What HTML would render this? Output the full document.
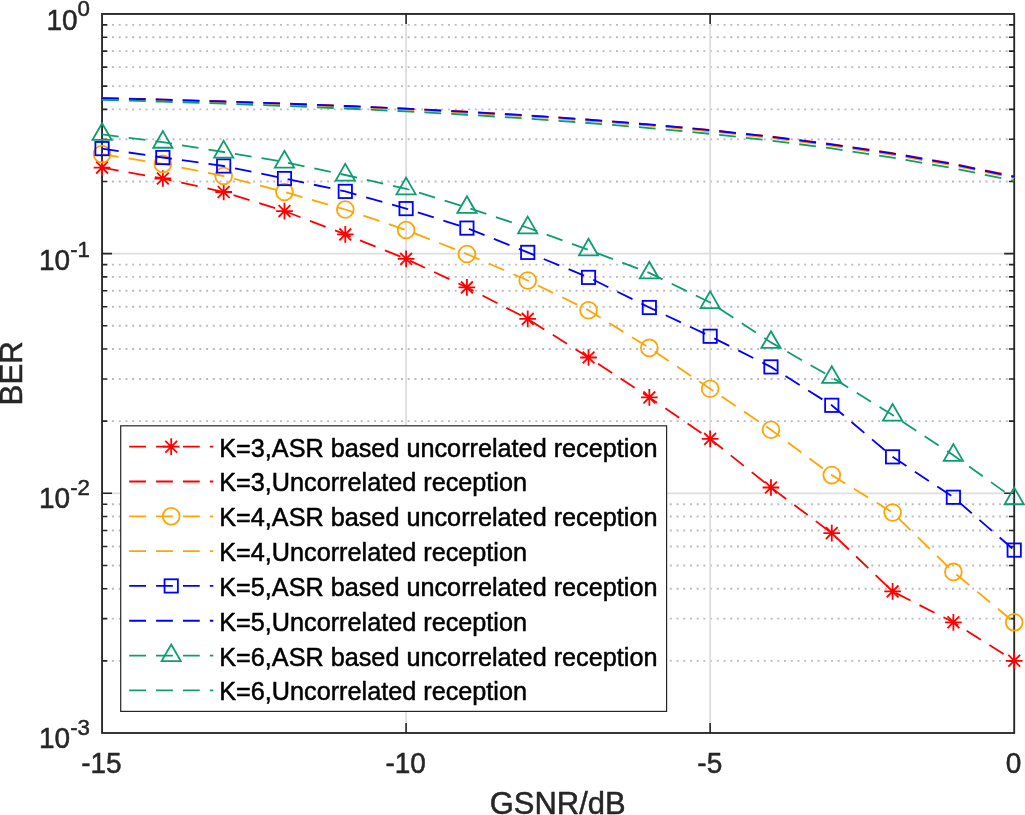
<!DOCTYPE html>
<html lang="en"><head><meta charset="utf-8"><title>BER vs GSNR</title>
<style>html,body{margin:0;padding:0;background:#fff}svg{display:block}text{font-family:"Liberation Sans",Arial,Helvetica,sans-serif;fill:#262626;stroke:#262626;stroke-width:0.5px;stroke-linejoin:round}</style></head><body>
<svg width="1025" height="815" viewBox="0 0 1025 815">
<rect width="1025" height="815" fill="#fff"/>
<g stroke="#bcbcbc" stroke-width="1.9" stroke-dasharray="2 4.72" fill="none"><line x1="112.00" y1="181.48" x2="1014.20" y2="181.48"/><line x1="112.00" y1="139.28" x2="1014.20" y2="139.28"/><line x1="112.00" y1="109.33" x2="1014.20" y2="109.33"/><line x1="112.00" y1="86.10" x2="1014.20" y2="86.10"/><line x1="112.00" y1="67.12" x2="1014.20" y2="67.12"/><line x1="112.00" y1="51.08" x2="1014.20" y2="51.08"/><line x1="112.00" y1="37.18" x2="1014.20" y2="37.18"/><line x1="112.00" y1="24.92" x2="1014.20" y2="24.92"/><line x1="112.00" y1="421.16" x2="1014.20" y2="421.16"/><line x1="112.00" y1="378.96" x2="1014.20" y2="378.96"/><line x1="112.00" y1="349.01" x2="1014.20" y2="349.01"/><line x1="112.00" y1="325.79" x2="1014.20" y2="325.79"/><line x1="112.00" y1="306.81" x2="1014.20" y2="306.81"/><line x1="112.00" y1="290.76" x2="1014.20" y2="290.76"/><line x1="112.00" y1="276.86" x2="1014.20" y2="276.86"/><line x1="112.00" y1="264.60" x2="1014.20" y2="264.60"/><line x1="112.00" y1="660.85" x2="1014.20" y2="660.85"/><line x1="112.00" y1="618.64" x2="1014.20" y2="618.64"/><line x1="112.00" y1="588.70" x2="1014.20" y2="588.70"/><line x1="112.00" y1="565.47" x2="1014.20" y2="565.47"/><line x1="112.00" y1="546.49" x2="1014.20" y2="546.49"/><line x1="112.00" y1="530.44" x2="1014.20" y2="530.44"/><line x1="112.00" y1="516.54" x2="1014.20" y2="516.54"/><line x1="112.00" y1="504.28" x2="1014.20" y2="504.28"/></g>
<g stroke="#dedede" stroke-width="1.8" fill="none"><line x1="406.10" y1="13.95" x2="406.10" y2="733.00"/><line x1="710.15" y1="13.95" x2="710.15" y2="733.00"/><line x1="102.05" y1="253.63" x2="1014.20" y2="253.63"/><line x1="102.05" y1="493.32" x2="1014.20" y2="493.32"/></g>
<g stroke="#262626" stroke-width="1.85" fill="none">
<rect x="102.05" y="13.95" width="912.15" height="719.05"/>
<path stroke-width="1.6" d="M406.10 733.00v-10M406.10 13.95v10M710.15 733.00v-10M710.15 13.95v10M102.05 253.63h10M1014.20 253.63h-10M102.05 493.32h10M1014.20 493.32h-10M102.05 181.48h5.3M1014.20 181.48h-5.3M102.05 139.28h5.3M1014.20 139.28h-5.3M102.05 109.33h5.3M1014.20 109.33h-5.3M102.05 86.10h5.3M1014.20 86.10h-5.3M102.05 67.12h5.3M1014.20 67.12h-5.3M102.05 51.08h5.3M1014.20 51.08h-5.3M102.05 37.18h5.3M1014.20 37.18h-5.3M102.05 24.92h5.3M1014.20 24.92h-5.3M102.05 421.16h5.3M1014.20 421.16h-5.3M102.05 378.96h5.3M1014.20 378.96h-5.3M102.05 349.01h5.3M1014.20 349.01h-5.3M102.05 325.79h5.3M1014.20 325.79h-5.3M102.05 306.81h5.3M1014.20 306.81h-5.3M102.05 290.76h5.3M1014.20 290.76h-5.3M102.05 276.86h5.3M1014.20 276.86h-5.3M102.05 264.60h5.3M1014.20 264.60h-5.3M102.05 660.85h5.3M1014.20 660.85h-5.3M102.05 618.64h5.3M1014.20 618.64h-5.3M102.05 588.70h5.3M1014.20 588.70h-5.3M102.05 565.47h5.3M1014.20 565.47h-5.3M102.05 546.49h5.3M1014.20 546.49h-5.3M102.05 530.44h5.3M1014.20 530.44h-5.3M102.05 516.54h5.3M1014.20 516.54h-5.3M102.05 504.28h5.3M1014.20 504.28h-5.3"/>
</g>
<polyline points="102.05,167.60 162.86,178.50 223.67,192.00 284.48,211.10 345.29,234.40 406.10,258.90 466.91,287.40 527.72,318.90 588.53,357.50 649.34,397.40 710.15,438.90 770.96,487.50 831.77,533.10 892.58,591.40 953.39,622.30 1014.20,660.80" fill="none" stroke="#ff0000" stroke-width="1.80" stroke-dasharray="16.8 10.08"/>
<path d="M93.70 167.60H110.40M102.05 159.25V175.95M96.15 161.70L107.95 173.50M96.15 173.50L107.95 161.70" stroke="#ff0000" stroke-width="1.80" fill="none"/><path d="M154.51 178.50H171.21M162.86 170.15V186.85M156.96 172.60L168.76 184.40M156.96 184.40L168.76 172.60" stroke="#ff0000" stroke-width="1.80" fill="none"/><path d="M215.32 192.00H232.02M223.67 183.65V200.35M217.77 186.10L229.57 197.90M217.77 197.90L229.57 186.10" stroke="#ff0000" stroke-width="1.80" fill="none"/><path d="M276.13 211.10H292.83M284.48 202.75V219.45M278.58 205.20L290.38 217.00M278.58 217.00L290.38 205.20" stroke="#ff0000" stroke-width="1.80" fill="none"/><path d="M336.94 234.40H353.64M345.29 226.05V242.75M339.39 228.50L351.19 240.30M339.39 240.30L351.19 228.50" stroke="#ff0000" stroke-width="1.80" fill="none"/><path d="M397.75 258.90H414.45M406.10 250.55V267.25M400.20 253.00L412.00 264.80M400.20 264.80L412.00 253.00" stroke="#ff0000" stroke-width="1.80" fill="none"/><path d="M458.56 287.40H475.26M466.91 279.05V295.75M461.01 281.50L472.81 293.30M461.01 293.30L472.81 281.50" stroke="#ff0000" stroke-width="1.80" fill="none"/><path d="M519.37 318.90H536.07M527.72 310.55V327.25M521.82 313.00L533.62 324.80M521.82 324.80L533.62 313.00" stroke="#ff0000" stroke-width="1.80" fill="none"/><path d="M580.18 357.50H596.88M588.53 349.15V365.85M582.63 351.60L594.43 363.40M582.63 363.40L594.43 351.60" stroke="#ff0000" stroke-width="1.80" fill="none"/><path d="M640.99 397.40H657.69M649.34 389.05V405.75M643.44 391.50L655.24 403.30M643.44 403.30L655.24 391.50" stroke="#ff0000" stroke-width="1.80" fill="none"/><path d="M701.80 438.90H718.50M710.15 430.55V447.25M704.25 433.00L716.05 444.80M704.25 444.80L716.05 433.00" stroke="#ff0000" stroke-width="1.80" fill="none"/><path d="M762.61 487.50H779.31M770.96 479.15V495.85M765.06 481.60L776.86 493.40M765.06 493.40L776.86 481.60" stroke="#ff0000" stroke-width="1.80" fill="none"/><path d="M823.42 533.10H840.12M831.77 524.75V541.45M825.87 527.20L837.67 539.00M825.87 539.00L837.67 527.20" stroke="#ff0000" stroke-width="1.80" fill="none"/><path d="M884.23 591.40H900.93M892.58 583.05V599.75M886.68 585.50L898.48 597.30M886.68 597.30L898.48 585.50" stroke="#ff0000" stroke-width="1.80" fill="none"/><path d="M945.04 622.30H961.74M953.39 613.95V630.65M947.49 616.40L959.29 628.20M947.49 628.20L959.29 616.40" stroke="#ff0000" stroke-width="1.80" fill="none"/><path d="M1005.85 660.80H1022.55M1014.20 652.45V669.15M1008.30 654.90L1020.10 666.70M1008.30 666.70L1020.10 654.90" stroke="#ff0000" stroke-width="1.80" fill="none"/>
<polyline points="102.05,98.03 162.86,99.62 223.67,101.44 284.48,103.51 345.29,105.89 406.10,108.62 466.91,111.75 527.72,115.36 588.53,119.54 649.34,124.37 710.15,129.99 770.96,136.54 831.77,144.20 892.58,153.20 953.39,163.80 1014.20,176.34" fill="none" stroke="#ff0000" stroke-width="1.80" stroke-dasharray="16.8 10.08"/>
<polyline points="102.05,154.10 162.86,163.90 223.67,176.00 284.48,192.00 345.29,209.50 406.10,230.00 466.91,254.00 527.72,280.50 588.53,310.25 649.34,347.90 710.15,388.75 770.96,429.75 831.77,475.10 892.58,512.50 953.39,571.90 1014.20,622.30" fill="none" stroke="#ffa500" stroke-width="1.80" stroke-dasharray="16.8 10.08"/>
<circle cx="102.05" cy="154.10" r="8.4" stroke="#ffa500" stroke-width="1.80" fill="none"/><circle cx="162.86" cy="163.90" r="8.4" stroke="#ffa500" stroke-width="1.80" fill="none"/><circle cx="223.67" cy="176.00" r="8.4" stroke="#ffa500" stroke-width="1.80" fill="none"/><circle cx="284.48" cy="192.00" r="8.4" stroke="#ffa500" stroke-width="1.80" fill="none"/><circle cx="345.29" cy="209.50" r="8.4" stroke="#ffa500" stroke-width="1.80" fill="none"/><circle cx="406.10" cy="230.00" r="8.4" stroke="#ffa500" stroke-width="1.80" fill="none"/><circle cx="466.91" cy="254.00" r="8.4" stroke="#ffa500" stroke-width="1.80" fill="none"/><circle cx="527.72" cy="280.50" r="8.4" stroke="#ffa500" stroke-width="1.80" fill="none"/><circle cx="588.53" cy="310.25" r="8.4" stroke="#ffa500" stroke-width="1.80" fill="none"/><circle cx="649.34" cy="347.90" r="8.4" stroke="#ffa500" stroke-width="1.80" fill="none"/><circle cx="710.15" cy="388.75" r="8.4" stroke="#ffa500" stroke-width="1.80" fill="none"/><circle cx="770.96" cy="429.75" r="8.4" stroke="#ffa500" stroke-width="1.80" fill="none"/><circle cx="831.77" cy="475.10" r="8.4" stroke="#ffa500" stroke-width="1.80" fill="none"/><circle cx="892.58" cy="512.50" r="8.4" stroke="#ffa500" stroke-width="1.80" fill="none"/><circle cx="953.39" cy="571.90" r="8.4" stroke="#ffa500" stroke-width="1.80" fill="none"/><circle cx="1014.20" cy="622.30" r="8.4" stroke="#ffa500" stroke-width="1.80" fill="none"/>
<polyline points="102.05,98.66 162.86,100.31 223.67,102.19 284.48,104.32 345.29,106.77 406.10,109.57 466.91,112.78 527.72,116.47 588.53,120.73 649.34,125.65 710.15,131.36 770.96,137.99 831.77,145.74 892.58,154.81 953.39,165.48 1014.20,178.06" fill="none" stroke="#ffa500" stroke-width="1.80" stroke-dasharray="16.8 10.08"/>
<polyline points="102.05,148.60 162.86,157.50 223.67,166.00 284.48,178.50 345.29,191.40 406.10,208.60 466.91,228.10 527.72,252.40 588.53,277.40 649.34,307.50 710.15,336.25 770.96,366.90 831.77,405.30 892.58,456.85 953.39,497.25 1014.20,550.10" fill="none" stroke="#0000ff" stroke-width="1.80" stroke-dasharray="16.8 10.08"/>
<rect x="95.40" y="141.95" width="13.30" height="13.30" stroke="#0000ff" stroke-width="1.80" fill="none"/><rect x="156.21" y="150.85" width="13.30" height="13.30" stroke="#0000ff" stroke-width="1.80" fill="none"/><rect x="217.02" y="159.35" width="13.30" height="13.30" stroke="#0000ff" stroke-width="1.80" fill="none"/><rect x="277.83" y="171.85" width="13.30" height="13.30" stroke="#0000ff" stroke-width="1.80" fill="none"/><rect x="338.64" y="184.75" width="13.30" height="13.30" stroke="#0000ff" stroke-width="1.80" fill="none"/><rect x="399.45" y="201.95" width="13.30" height="13.30" stroke="#0000ff" stroke-width="1.80" fill="none"/><rect x="460.26" y="221.45" width="13.30" height="13.30" stroke="#0000ff" stroke-width="1.80" fill="none"/><rect x="521.07" y="245.75" width="13.30" height="13.30" stroke="#0000ff" stroke-width="1.80" fill="none"/><rect x="581.88" y="270.75" width="13.30" height="13.30" stroke="#0000ff" stroke-width="1.80" fill="none"/><rect x="642.69" y="300.85" width="13.30" height="13.30" stroke="#0000ff" stroke-width="1.80" fill="none"/><rect x="703.50" y="329.60" width="13.30" height="13.30" stroke="#0000ff" stroke-width="1.80" fill="none"/><rect x="764.31" y="360.25" width="13.30" height="13.30" stroke="#0000ff" stroke-width="1.80" fill="none"/><rect x="825.12" y="398.65" width="13.30" height="13.30" stroke="#0000ff" stroke-width="1.80" fill="none"/><rect x="885.93" y="450.20" width="13.30" height="13.30" stroke="#0000ff" stroke-width="1.80" fill="none"/><rect x="946.74" y="490.60" width="13.30" height="13.30" stroke="#0000ff" stroke-width="1.80" fill="none"/><rect x="1007.55" y="543.45" width="13.30" height="13.30" stroke="#0000ff" stroke-width="1.80" fill="none"/>
<polyline points="102.05,98.09 162.86,99.69 223.67,101.52 284.48,103.60 345.29,105.99 406.10,108.74 466.91,111.89 527.72,115.53 588.53,119.73 649.34,124.59 710.15,130.25 770.96,136.84 831.77,144.55 892.58,153.60 953.39,164.28 1014.20,176.91" fill="none" stroke="#0000ff" stroke-width="1.80" stroke-dasharray="16.8 10.08"/>
<polyline points="102.05,134.40 162.86,142.20 223.67,152.00 284.48,162.00 345.29,175.00 406.10,188.75 466.91,207.40 527.72,227.75 588.53,249.90 649.34,272.90 710.15,302.50 770.96,342.40 831.77,377.30 892.58,415.10 953.39,455.25 1014.20,498.70" fill="none" stroke="#0e9d70" stroke-width="1.80" stroke-dasharray="16.8 10.08"/>
<path d="M102.05 123.30L111.66 139.95L92.44 139.95Z" stroke="#0e9d70" stroke-width="1.80" fill="none" stroke-linejoin="miter"/><path d="M162.86 131.10L172.47 147.75L153.25 147.75Z" stroke="#0e9d70" stroke-width="1.80" fill="none" stroke-linejoin="miter"/><path d="M223.67 140.90L233.28 157.55L214.06 157.55Z" stroke="#0e9d70" stroke-width="1.80" fill="none" stroke-linejoin="miter"/><path d="M284.48 150.90L294.09 167.55L274.87 167.55Z" stroke="#0e9d70" stroke-width="1.80" fill="none" stroke-linejoin="miter"/><path d="M345.29 163.90L354.90 180.55L335.68 180.55Z" stroke="#0e9d70" stroke-width="1.80" fill="none" stroke-linejoin="miter"/><path d="M406.10 177.65L415.71 194.30L396.49 194.30Z" stroke="#0e9d70" stroke-width="1.80" fill="none" stroke-linejoin="miter"/><path d="M466.91 196.30L476.52 212.95L457.30 212.95Z" stroke="#0e9d70" stroke-width="1.80" fill="none" stroke-linejoin="miter"/><path d="M527.72 216.65L537.33 233.30L518.11 233.30Z" stroke="#0e9d70" stroke-width="1.80" fill="none" stroke-linejoin="miter"/><path d="M588.53 238.80L598.14 255.45L578.92 255.45Z" stroke="#0e9d70" stroke-width="1.80" fill="none" stroke-linejoin="miter"/><path d="M649.34 261.80L658.95 278.45L639.73 278.45Z" stroke="#0e9d70" stroke-width="1.80" fill="none" stroke-linejoin="miter"/><path d="M710.15 291.40L719.76 308.05L700.54 308.05Z" stroke="#0e9d70" stroke-width="1.80" fill="none" stroke-linejoin="miter"/><path d="M770.96 331.30L780.57 347.95L761.35 347.95Z" stroke="#0e9d70" stroke-width="1.80" fill="none" stroke-linejoin="miter"/><path d="M831.77 366.20L841.38 382.85L822.16 382.85Z" stroke="#0e9d70" stroke-width="1.80" fill="none" stroke-linejoin="miter"/><path d="M892.58 404.00L902.19 420.65L882.97 420.65Z" stroke="#0e9d70" stroke-width="1.80" fill="none" stroke-linejoin="miter"/><path d="M953.39 444.15L963.00 460.80L943.78 460.80Z" stroke="#0e9d70" stroke-width="1.80" fill="none" stroke-linejoin="miter"/><path d="M1014.20 487.60L1023.81 504.25L1004.59 504.25Z" stroke="#0e9d70" stroke-width="1.80" fill="none" stroke-linejoin="miter"/>
<polyline points="102.05,99.95 162.86,101.70 223.67,103.68 284.48,105.93 345.29,108.50 406.10,111.42 466.91,114.76 527.72,118.59 588.53,122.98 649.34,128.03 710.15,133.86 770.96,140.61 831.77,148.45 892.58,157.59 953.39,168.27 1014.20,180.81" fill="none" stroke="#0e9d70" stroke-width="1.80" stroke-dasharray="16.8 10.08"/>
<text transform="translate(101.45 772.95) scale(1 1.030)" font-size="28.00" text-anchor="middle">-15</text>
<text transform="translate(405.70 772.95) scale(1 1.030)" font-size="28.00" text-anchor="middle">-10</text>
<text transform="translate(709.75 772.95) scale(1 1.030)" font-size="28.00" text-anchor="middle">-5</text>
<text transform="translate(1013.60 772.95) scale(1 1.030)" font-size="28.00" text-anchor="middle">0</text>
<text transform="translate(90.00 29.50) scale(1 1.030)" font-size="28.00" text-anchor="end">10<tspan font-size="22.3" dy="-13.1">0</tspan></text>
<text transform="translate(90.00 270.00) scale(1 1.030)" font-size="28.00" text-anchor="end">10<tspan font-size="22.3" dy="-13.1">-1</tspan></text>
<text transform="translate(90.00 508.10) scale(1 1.030)" font-size="28.00" text-anchor="end">10<tspan font-size="22.3" dy="-13.1">-2</tspan></text>
<text transform="translate(90.00 748.30) scale(1 1.030)" font-size="28.00" text-anchor="end">10<tspan font-size="22.3" dy="-13.1">-3</tspan></text>
<text transform="translate(557.70 813.80) scale(1 1.015)" font-size="30.95" text-anchor="middle">GSNR/dB</text>
<text transform="translate(22 373.3) rotate(-90) scale(1 1.015)" font-size="31.30" text-anchor="middle">BER</text>
<rect x="120.70" y="425.80" width="545.90" height="285.60" fill="#fff" stroke="#262626" stroke-width="1.2"/>
<line x1="129.2" y1="446.70" x2="213.3" y2="446.70" stroke="#ff0000" stroke-width="1.80" stroke-dasharray="16.8 10.08"/>
<path d="M162.85 446.70H179.55M171.20 438.35V455.05M165.30 440.80L177.10 452.60M165.30 452.60L177.10 440.80" stroke="#ff0000" stroke-width="1.80" fill="none"/>
<text transform="translate(219.20 456.65) scale(1 1.030)" font-size="25.23" text-anchor="start" style="fill:#000;stroke:#000">K=3,ASR based uncorrelated reception</text>
<line x1="129.2" y1="481.51" x2="213.3" y2="481.51" stroke="#ff0000" stroke-width="1.80" stroke-dasharray="16.8 10.08"/>
<text transform="translate(219.20 491.46) scale(1 1.030)" font-size="25.23" text-anchor="start" style="fill:#000;stroke:#000">K=3,Uncorrelated reception</text>
<line x1="129.2" y1="516.32" x2="213.3" y2="516.32" stroke="#ffa500" stroke-width="1.80" stroke-dasharray="16.8 10.08"/>
<circle cx="171.20" cy="516.32" r="8.4" stroke="#ffa500" stroke-width="1.80" fill="none"/>
<text transform="translate(219.20 526.27) scale(1 1.030)" font-size="25.23" text-anchor="start" style="fill:#000;stroke:#000">K=4,ASR based uncorrelated reception</text>
<line x1="129.2" y1="551.13" x2="213.3" y2="551.13" stroke="#ffa500" stroke-width="1.80" stroke-dasharray="16.8 10.08"/>
<text transform="translate(219.20 561.08) scale(1 1.030)" font-size="25.23" text-anchor="start" style="fill:#000;stroke:#000">K=4,Uncorrelated reception</text>
<line x1="129.2" y1="585.94" x2="213.3" y2="585.94" stroke="#0000ff" stroke-width="1.80" stroke-dasharray="16.8 10.08"/>
<rect x="164.55" y="579.29" width="13.30" height="13.30" stroke="#0000ff" stroke-width="1.80" fill="none"/>
<text transform="translate(219.20 595.89) scale(1 1.030)" font-size="25.23" text-anchor="start" style="fill:#000;stroke:#000">K=5,ASR based uncorrelated reception</text>
<line x1="129.2" y1="620.75" x2="213.3" y2="620.75" stroke="#0000ff" stroke-width="1.80" stroke-dasharray="16.8 10.08"/>
<text transform="translate(219.20 630.70) scale(1 1.030)" font-size="25.23" text-anchor="start" style="fill:#000;stroke:#000">K=5,Uncorrelated reception</text>
<line x1="129.2" y1="655.56" x2="213.3" y2="655.56" stroke="#0e9d70" stroke-width="1.80" stroke-dasharray="16.8 10.08"/>
<path d="M171.20 644.46L180.81 661.11L161.59 661.11Z" stroke="#0e9d70" stroke-width="1.80" fill="none" stroke-linejoin="miter"/>
<text transform="translate(219.20 665.51) scale(1 1.030)" font-size="25.23" text-anchor="start" style="fill:#000;stroke:#000">K=6,ASR based uncorrelated reception</text>
<line x1="129.2" y1="690.37" x2="213.3" y2="690.37" stroke="#0e9d70" stroke-width="1.80" stroke-dasharray="16.8 10.08"/>
<text transform="translate(219.20 700.32) scale(1 1.030)" font-size="25.23" text-anchor="start" style="fill:#000;stroke:#000">K=6,Uncorrelated reception</text>
</svg></body></html>
